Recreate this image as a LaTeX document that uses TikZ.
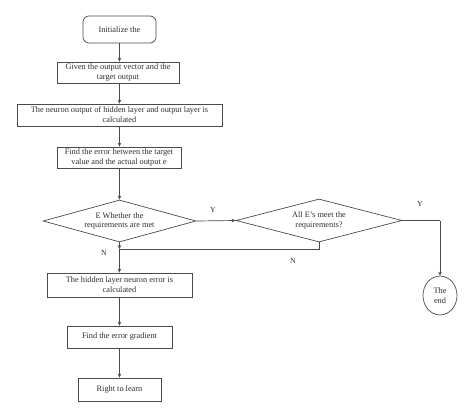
\documentclass[tikz,border=0pt]{standalone}
\usepackage{fontspec}
\setmainfont{Liberation Serif}
\usetikzlibrary{shapes.geometric,arrows.meta}
\definecolor{lineg}{HTML}{4A4A4A}
\definecolor{textg}{HTML}{2E2E2E}
\begin{document}
\begin{tikzpicture}[x=1pt,y=-1pt,
  every node/.style={font=\fontsize{8.3}{9.8}\selectfont,text=textg,align=center,inner sep=0pt},
  procbox/.style={draw=lineg,line width=0.7pt,rectangle},
  startbox/.style={draw=lineg,line width=0.7pt,rectangle,rounded corners=6pt},
  decbox/.style={draw=lineg,line width=0.7pt,diamond,shape aspect=3.6},
  endbox/.style={draw=lineg,line width=0.7pt,ellipse},
  conn/.style={draw=lineg,line width=0.7pt},
  arr/.style={conn,-{Stealth[length=4pt,width=3.5pt]}},
  lbl/.style={font=\fontsize{7.8}{9}\selectfont}]
\useasboundingbox (0,0) rectangle (474,418);
\node[startbox,minimum width=73pt,minimum height=27pt] (start) at (119.5,29.5) {Initialize the};
\node[procbox,minimum width=122pt,minimum height=21pt] (b2) at (118,72.5) {Given the output vector and the\\target output};
\node[procbox,minimum width=205pt,minimum height=22pt] (b3) at (119.5,115) {The neuron output of hidden layer and output layer is\\calculated};
\node[procbox,minimum width=124pt,minimum height=21pt] (b4) at (119,157.5) {Find the error between the target\\value and the actual output e};
\node[decbox,minimum width=153pt,minimum height=42pt] (d1) at (119.5,221) {E Whether the\\requirements are met};
\node[decbox,minimum width=166pt,minimum height=43pt] (d2) at (319,220.5) {All E's meet the\\requirements?};
\node[endbox,minimum width=34pt,minimum height=39pt] (end) at (440,295.5) {The\\end};
\node[procbox,minimum width=145pt,minimum height=24pt] (b5) at (119.5,285) {The hidden layer neuron error is\\calculated};
\node[procbox,minimum width=105pt,minimum height=22pt] (b6) at (119.5,337) {Find the error gradient};
\node[procbox,minimum width=83pt,minimum height=23pt] (b7) at (119.5,389.5) {Right to learn};
\coordinate (J) at (119.5,249);
\coordinate (R) at (440,220.5);
\draw[arr] (start.south) -- (start.south |- b2.north);
\draw[arr] (b2.south -| start.south) -- (start.south |- b3.north);
\draw[arr] (b3.south) -- (b3.south |- b4.north);
\draw[arr] (b4.south -| d1.north) -- (d1.north);
\draw[arr] (d1.east) -- (d2.west);
\draw[arr] (d1.south) -- (J);
\draw[arr] (J) -- (b5.north);
\draw[conn] (d2.south) |- (J);
\draw[conn] (d2.east) -- (R);
\draw[arr] (R) -- (end.north);
\draw[arr] (b5.south) -- (b6.north);
\draw[arr] (b6.south) -- (b7.north);
\node[lbl] (ly1) at (213,210) {Y};
\node[lbl] (ln1) at (104,253) {N};
\node[lbl] (ly2) at (420,204) {Y};
\node[lbl] (ln2) at (293,261) {N};
\end{tikzpicture}
\end{document}
